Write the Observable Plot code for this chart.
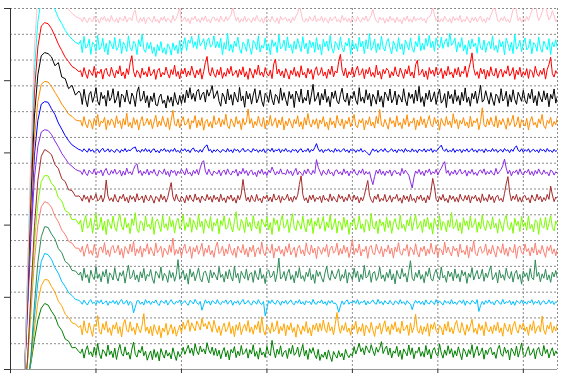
<!DOCTYPE html>
<html>
<head>
<meta charset="utf-8">
<script src="https://cdn.jsdelivr.net/npm/d3@7"></script>
<script src="https://cdn.jsdelivr.net/npm/@observablehq/plot@0.6"></script>
<style>
  html, body { margin: 0; padding: 0; background: #fff; }
  #chart svg { display: block; }
</style>
</head>
<body>
<div id="chart"></div>
<script>
// x sampling: a coarse start segment, then a fine segment
const riseStart = 0.16, riseStep = 0.04, riseCount = 17;
const fineStart = 0.82, fineStep = 0.02;
// Baseline level of each trace (bottom to top)
const offsets = [66, 159, 260, 364, 461, 562, 663, 764, 849, 957, 1054, 1151, 1256, 1357];
const colors = ["green", "orange", "deepskyblue", "seagreen", "salmon", "lawngreen", "brown",
                "blueviolet", "blue", "darkorange", "black", "red", "cyan", "pink"];
const xTicks = [0, 1, 2, 3, 4, 5, 6];
const yTicks = [0, 280, 560, 840, 1120, 1400];
const yGrid = [100, 200, 300, 400, 500, 600, 700, 800, 900, 1000, 1100, 1200, 1300, 1400];
const xGrid = [1, 2, 3, 4, 5, 6, 6.4];

const s0 = [-143,-104,-40,49,126,172,190,184,160,140,104,86,52,44,18,20,3,
-3,14,-22,9,26,-8,3,-17,21,-12,35,-5,-24,11,2,-15,29,-9,6,-20,
17,-27,8,31,-4,-14,22,-10,1,-26,13,40,-7,-18,10,-2,24,-13,5,-30,
-10,6,-28,12,-19,3,-33,15,-6,-22,9,-14,-1,-25,18,-8,-31,4,-16,-5,
20,-7,11,28,-3,17,-12,33,6,-9,25,2,14,-6,38,10,-4,21,-11,16,
-14,9,-24,3,19,-17,7,-29,12,-2,23,-20,5,-13,27,-8,-1,15,-22,11,
-6,30,-15,4,-26,18,-10,2,-19,24,-4,-12,47,8,-21,13,-7,26,-16,1,
8,-23,16,-5,28,-11,-2,21,-18,6,31,-14,9,-27,15,-3,19,-9,-24,12,
-31,-7,-19,2,-26,10,-15,-35,4,-11,-22,7,-17,-3,-29,12,-8,-20,-5,-14,
23,-6,14,36,3,18,-9,26,11,-2,30,7,-12,20,1,16,42,-4,13,25,
-10,17,-21,6,-3,24,-16,9,-27,14,1,-13,29,-8,18,-24,5,-1,21,-15,
4,-18,27,-9,12,-25,8,19,-6,-14,33,-2,-22,10,-11,26,-5,15,-19,7,
-13,22,-4,-28,16,3,-17,11,-7,30,-20,6,24,-12,-1,18,-26,9,-8,14,
19,-10,2,-23,13,28,-6,-15,21,-3,10,-29,17,4,-12,25,-18,7,37,-9,
-16,5,23,-11,-2,15,-25,9,20,-7,-14,27,-4,12,-21,3,18,-13,6,-8];
const s1 = [-264,-211,-124,-2,103,166,190,188,163,141,106,88,56,43,22,17,4,
12,-25,30,-9,-18,22,-4,-31,16,7,50,-12,-22,19,-6,28,-15,3,-27,14,
-2,24,-19,8,-33,17,35,-7,-14,26,-10,4,-24,21,-1,-17,13,58,-11,6,
-20,9,-29,15,-5,-23,11,-36,2,-13,20,-26,-4,16,-21,7,-30,-8,13,-18,
25,-3,18,34,-11,22,6,-9,29,13,-6,40,8,19,-2,27,11,-14,32,5,
-16,10,-27,3,21,-13,-1,26,-20,9,-32,15,-7,24,-24,1,17,-10,31,-15,
6,-22,14,-3,28,-17,45,-8,-26,11,2,-19,23,-12,-4,30,-21,8,-9,19,
-28,13,-6,22,-15,4,-34,16,-1,-23,10,-11,27,-18,3,-29,14,-5,21,-13,
20,-8,33,-2,-16,25,-10,7,-24,18,62,9,-19,12,-7,23,-14,2,-26,15,
-4,28,-20,6,-11,19,-29,13,1,-17,24,-6,-31,10,-2,21,-22,8,30,-12,
9,-24,17,-5,26,-13,3,-20,29,-9,-1,14,-27,22,-16,5,55,-7,-18,11,
-23,7,-12,20,-30,16,-3,24,-8,-19,12,2,-25,18,-10,27,-14,4,-21,13,
31,-6,-17,23,-2,-26,15,-11,9,36,-15,1,-22,19,-7,12,-28,26,-4,-13,
8,-20,14,-9,25,-16,3,-30,21,-1,-12,17,-24,10,28,-5,-18,15,-3,22,
-11,6,-27,16,-8,30,-19,2,11,-14,48,-6,-23,13,-2,25,-17,9,-10,20];
const s2 = [-395,-328,-215,-57,78,159,190,185,167,135,113,81,62,38,27,12,8,
3,-7,9,-2,-10,5,11,-4,1,-8,7,-3,10,-6,0,6,-11,4,-2,8,
-5,7,-9,3,12,-6,-1,9,-11,4,-3,-40,-18,6,8,-7,2,-10,11,-3,
6,-8,4,-2,10,-5,-12,7,3,-4,9,-10,1,11,-3,-7,5,-1,10,-8,
0,7,-4,-11,8,3,-6,12,-1,-8,4,-30,-9,10,-3,6,-10,7,2,-6,
11,-4,-8,5,-1,10,-7,3,9,-11,4,-3,7,-9,1,12,-6,-2,8,-4,
-10,6,3,-7,11,-3,-8,4,-52,-24,7,-4,10,-2,-7,8,3,-11,6,-3,
8,-7,2,10,-4,-9,6,-3,11,-6,3,-10,7,-1,4,-8,12,-4,-7,5,
-2,10,-6,3,-11,7,-3,8,-4,-2,-12,-38,-14,6,-8,4,10,-7,2,-3,
7,-4,11,-8,3,-1,8,-10,5,-6,2,10,-3,-7,12,-4,4,-9,7,-2,
-6,8,-3,-10,6,2,-7,11,-4,3,-9,7,-2,-6,-28,-5,8,-3,6,-7,
4,-10,10,-3,-6,7,1,-8,11,-4,6,-2,-10,8,-3,4,-7,11,-6,2,
-8,3,7,-4,10,-11,6,-2,-7,8,3,-6,11,-35,-12,4,-8,7,-3,10,
-4,2,-10,6,8,-3,-7,12,-6,3,-1,8,-9,4,-11,7,2,-4,10,-6,
3,-7,6,-2,11,-8,4,-3,8,-10,2,7,-6,-3,10,-4,6,-8,3,-2];
const s3 = [-530,-447,-309,-115,52,151,190,187,161,142,105,89,55,45,20,18,2,
14,-19,29,-8,4,-28,21,-3,-15,35,-11,7,-24,16,-5,25,-31,11,1,-17,
31,-7,-21,12,-2,19,-29,8,40,-12,-4,22,-16,3,-25,15,-9,28,-20,5,
-3,24,-13,-30,17,7,-10,34,-19,9,-1,-26,20,-8,12,-22,4,62,-14,2,
21,-16,8,-33,26,-5,15,-20,3,30,-12,-24,11,18,-4,-28,22,-9,13,-1,
-17,33,-7,5,-25,16,-13,24,-3,-21,37,-8,9,-29,17,1,-12,26,-18,7,
12,-26,20,-4,-16,29,-11,4,-31,15,22,-7,-2,18,-24,8,68,-13,-5,16,
-20,9,25,-15,3,-28,17,-8,31,-12,0,-22,13,-4,28,-17,5,-30,21,-3,
15,-9,-25,11,36,-5,-18,20,-1,-13,8,26,-21,4,-10,24,-29,12,1,-16,
29,-7,18,-24,5,-15,40,-9,-3,21,-26,10,16,-19,-5,33,-12,3,-22,13,
-8,25,-17,7,-32,20,-1,-13,28,-4,9,-25,17,58,-10,-20,12,-7,22,-14,
4,-28,16,-3,30,-12,-21,8,24,-5,-16,34,-9,1,-26,18,-4,13,-20,26,
-10,7,-24,21,-1,15,-30,9,-7,31,-17,3,20,-13,-3,25,-22,10,-8,17,
38,-16,-5,12,-28,22,-9,4,-18,29,-1,-12,16,-25,8,21,-14,5,-33,18,
-4,11,-21,28,-8,-16,61,-3,13,-24,7,-10,25,-17,3,-26,14,-5,20,-12];
const s4 = [-559,-428,-233,-38,99,170,190,184,168,133,112,80,63,36,29,10,9,
-6,17,-22,5,26,-12,1,-18,24,-4,-27,10,14,-8,31,-16,3,-23,12,20,
-9,-1,21,-17,8,-29,16,4,-13,25,-5,36,-20,7,-10,18,-25,9,-3,27,
-14,13,-4,-21,30,-8,3,17,-26,10,-1,-16,22,-7,49,-18,5,-12,14,-23,
8,25,-10,-3,16,-30,12,-5,20,-14,4,29,-22,9,-8,21,-17,1,-26,13,
33,-12,-4,18,-21,7,-13,26,-1,-18,10,-27,17,3,-9,24,-16,8,-25,14,
-5,21,-24,4,12,-14,34,-8,-20,16,1,-10,25,-29,9,-3,18,-13,5,-22,
17,-7,27,-17,-1,13,-26,8,20,-12,3,-21,30,-5,-16,22,-9,10,-31,16,
4,-14,12,-4,24,-25,7,18,-10,-1,29,-18,8,-13,21,-7,14,-27,3,44,
-16,9,-8,26,-21,5,-3,17,-30,12,20,-9,-17,25,1,-12,16,-24,7,-4,
22,-13,10,-29,14,-5,31,-10,-18,8,-1,24,-22,13,4,-16,27,-8,-25,12,
-3,18,-20,7,-12,29,-7,-14,21,-26,9,3,-17,33,-9,14,-5,-21,17,-1,
10,-24,25,-8,1,-16,20,-28,13,-4,38,-12,-20,8,16,-10,-3,26,-18,5,
-13,21,-5,-25,17,4,-10,27,-16,9,-22,14,-1,-8,24,-30,12,18,-7,-14,
26,-4,8,-21,13,-9,30,-17,3,-12,20,-5,-26,16,-1,22,-13,7,-20,10];
const s5 = [-675,-524,-299,-73,85,167,190,189,160,145,104,92,54,47,19,21,1,
18,-29,10,35,-14,-4,25,-34,7,43,-20,-8,29,-23,13,-39,21,3,-16,33,
-10,-26,17,39,-7,-21,27,-12,5,-35,23,-3,46,-17,-31,14,8,-25,34,-9,
1,-18,30,-38,12,21,-5,-27,36,-13,4,-22,31,-8,16,-33,9,25,-16,-4,
38,-23,7,-10,27,-30,18,-1,-20,40,-9,13,-34,22,3,-14,31,-26,8,-5,
23,-36,16,-3,34,-18,-12,26,-7,-29,12,50,-16,-22,20,4,-31,29,-8,10,
-25,35,-4,-17,14,-34,22,5,-10,30,-21,8,-39,26,-1,17,-27,12,36,-14,
-7,20,-31,9,42,-12,-23,16,1,-18,33,-9,-29,21,-4,25,-35,13,-5,27,
-17,4,31,-26,10,-13,38,-20,-3,23,-33,14,7,-22,29,-10,18,-38,8,-1,
26,-21,-7,34,-16,3,-30,20,12,-25,44,-8,-18,14,-35,22,-4,10,-27,30,
-12,16,-34,5,23,-9,-20,36,-14,1,-26,18,-5,31,-23,9,39,-17,-3,13,
-31,21,-8,29,-18,7,-37,25,-1,-13,35,-22,12,4,-29,17,-10,47,-16,-7,
20,-25,8,-35,27,-4,14,-21,33,-12,-1,23,-30,10,-17,38,-8,-23,16,3,
-18,30,-13,5,-33,22,-3,-26,17,36,-10,-20,9,-34,25,-5,13,-27,31,-9,
8,-22,34,-16,1,-29,18,12,-38,26,-7,-14,29,-21,4,35,-12,-25,14,-4];
const s6 = [-791,-620,-364,-109,71,164,190,182,170,132,116,77,66,34,31,9,10,
4,-10,14,-3,8,-15,12,-6,1,18,-9,-4,13,-13,6,72,10,-8,3,-12,
16,-5,-14,9,-1,17,-10,5,-17,12,-3,8,-13,19,-6,-1,10,-16,14,-4,
-9,13,-1,-18,8,3,-12,16,-5,10,-14,4,35,62,7,-10,17,-4,-13,9,
1,-17,12,-8,14,-3,-12,18,-6,5,-16,10,-1,-9,16,-5,8,-14,13,-4,
6,-13,17,-8,3,-16,10,-3,14,-10,4,-18,12,-5,18,74,27,-9,5,-14,
13,-4,-12,16,-8,1,-17,9,-1,14,-10,6,-13,18,-5,-3,12,-16,8,-6,
-1,17,-9,5,-14,10,-4,13,55,88,16,-8,3,-17,12,-5,14,-12,4,-3,
9,-16,13,-6,1,-12,18,-9,8,-4,-14,16,-1,10,-13,5,-8,17,-3,-10,
14,-5,8,-17,4,-9,12,42,70,13,-6,-16,10,-3,17,-12,1,-8,16,-13,
-4,12,-14,6,-1,16,-10,3,-18,13,-5,9,-12,17,-8,1,-16,10,-3,14,
-9,4,-17,12,-5,28,78,46,-3,-13,8,-6,16,-10,1,-16,13,-4,9,-12,
5,-14,17,-3,-9,12,-6,14,-17,8,-1,13,-10,4,-16,18,-8,3,-12,16,
-5,9,-16,6,13,-8,1,-13,20,57,85,24,-9,10,-4,16,-12,5,-14,8,
12,-6,3,-17,14,-1,-10,17,-5,9,-13,4,-8,16,-3,48,14,-12,6,-1];
const s7 = [-811,-531,-252,-20,101,157,166,163,147,122,100,74,55,35,24,12,6,
5,-8,12,-3,-12,9,1,-6,14,-10,4,-1,10,-13,6,16,-5,-9,8,-4,
13,-6,-1,9,-14,5,-10,17,-4,3,-9,12,28,34,-3,8,-12,4,-5,13,
-10,6,-3,12,-8,-13,9,1,-5,14,-9,4,-16,10,-1,8,-12,5,-4,13,
3,-10,16,-6,1,-14,8,-4,12,-9,18,39,46,5,-8,13,-3,-12,6,-1,
-5,10,-13,4,9,-8,14,-3,-10,6,-1,12,-14,5,-6,16,-4,8,-12,3,
10,-9,1,-16,8,-4,13,-8,3,-12,9,-1,21,5,-10,4,-6,14,-5,-3,
-8,12,-4,6,-13,3,16,-9,5,-3,-12,10,-5,14,-1,-9,8,-4,50,20,
4,-12,9,-3,-8,13,-5,1,-14,8,10,-6,3,-10,14,-4,6,-13,5,-1,
12,-5,-10,8,-3,14,-9,4,-6,3,-25,-47,-16,9,-4,13,-8,5,-12,6,
-3,10,-14,4,8,-6,1,-12,16,-5,9,-1,-10,-36,-60,-20,6,-4,12,-8,
5,-13,9,-1,14,-8,3,-4,12,-10,6,16,31,42,-3,8,-12,4,-6,10,
-9,3,13,-5,-1,9,-14,6,-4,12,-8,1,-12,5,10,-3,14,-9,4,-6,
8,-4,-10,16,-6,3,12,27,52,17,-5,9,-13,4,-1,10,-8,14,-3,-10,
6,-1,13,-9,4,-12,8,-5,14,-3,-8,10,-4,1,-13,9,5,-10,3,-4];
const s8 = [-901,-589,-278,-18,117,180,190,187,162,140,107,83,58,38,22,13,4,
3,-4,7,-1,-6,8,-3,4,-7,1,5,-8,3,9,-4,-1,7,-6,4,-3,
-7,5,1,-8,4,-3,8,-5,3,-1,7,11,14,-4,1,-7,5,-3,8,-4,
4,-8,3,7,-6,1,-9,5,-1,8,-4,3,-7,4,-3,9,-5,1,-8,5,
-1,7,-4,3,-8,5,10,-3,1,-7,4,-6,8,17,22,-1,4,-8,3,-4,
5,-3,-7,4,1,-6,8,-4,3,-8,7,-1,4,-7,1,9,-4,-1,5,-3,
-6,8,-1,4,-7,3,-4,7,-8,1,5,-3,9,-6,3,-1,7,-8,4,-3,
8,-4,1,-7,5,-1,4,-8,3,7,-6,1,-3,8,-7,4,-1,12,27,7,
-4,5,-8,3,-1,7,-4,1,-7,8,-3,4,-6,1,8,-4,3,-8,5,-1,
4,-7,3,-3,8,-6,1,-4,-11,-18,-5,7,-3,4,-7,1,5,-4,8,-3,
-6,1,7,-4,3,-8,5,-1,4,-7,8,-3,1,-6,7,-4,3,-8,5,1,
-3,7,-6,4,-1,8,-7,3,-4,5,13,21,4,-3,7,-6,1,-4,8,-7,
3,-1,5,-8,4,-3,7,-6,1,8,-4,3,-7,5,-1,4,-8,7,-3,1,
-4,8,-3,5,-7,1,4,-6,8,-1,3,-8,5,-3,12,18,1,-4,7,-6,
4,-3,7,-7,1,5,-4,3,-8,7,-1,4,-6,8,-3,1,-7,5,-4,3];
const s9 = [-1013,-678,-343,-63,82,149,160,158,141,118,97,72,54,33,25,11,7,
9,-13,24,-5,-20,12,3,-25,17,-8,32,-16,7,-1,21,-27,11,-10,15,4,
-19,27,-4,8,-24,16,-9,37,-15,1,-21,20,-7,12,-28,5,24,-12,-3,17,
-8,13,-23,4,29,-17,7,-11,25,-1,-16,19,-27,9,48,-5,-13,15,-20,3,
23,-9,-4,16,-25,8,-1,28,-19,11,-12,20,-29,5,13,-15,4,-21,27,-7,
-3,19,-16,12,-8,33,-12,-23,15,1,-17,24,-5,8,-27,17,-9,3,53,-4,
16,-20,5,-11,25,-3,-15,21,-24,9,-7,29,-13,1,19,-19,11,-8,23,-28,
7,-12,17,-1,-21,13,-5,27,-16,4,-25,20,-9,36,-3,-17,12,-7,16,-23,
11,-4,24,-15,3,-27,19,-8,7,-20,28,-1,-12,15,-24,8,-5,21,-16,4,
32,-11,-19,12,-1,17,-28,9,-7,23,-13,3,-21,25,-4,51,-9,-16,13,-5,
-25,20,-3,8,-17,27,-11,1,-23,16,-8,31,-15,5,-1,19,-27,11,-12,24,
-7,15,-20,4,28,-9,-16,21,-4,12,-29,17,-1,-13,24,-8,7,-19,35,-3,
13,-24,9,-5,20,-12,3,-21,25,-15,8,-1,17,-27,5,58,-7,-17,15,-9,
21,-4,-15,27,-20,11,-8,16,-3,-25,19,-11,4,29,-16,-5,23,-21,12,-1,
-13,17,-28,7,24,-9,1,-19,15,-4,32,-12,-23,9,-3,21,-16,5,-8,25];
const s10 = [-1115,-747,-378,-71,89,163,175,171,158,124,136,80,74,35,48,10,26,
16,-26,33,-8,-35,12,24,-18,4,39,-14,-29,21,-4,9,-33,28,-12,1,35,
-21,-5,25,-37,14,7,-17,30,-10,-25,18,3,-34,22,42,-13,-7,26,-20,8,
-38,6,-15,19,-28,-31,2,14,-22,-9,-40,8,-18,3,-33,20,-13,-27,9,-23,
13,-19,30,-1,39,-6,17,-14,25,33,-8,12,22,-17,31,6,24,47,-3,11,
27,-14,-33,18,3,-24,34,-9,12,-29,22,-1,-17,40,-12,7,-37,25,-5,16,
-25,10,35,-20,-3,29,-13,-34,17,8,-18,31,-7,-28,13,4,-22,38,-10,20,
-8,-31,24,-4,14,-38,26,9,-16,34,-21,1,-12,30,-26,10,52,-14,-1,21,
-29,16,-9,33,-18,5,-35,22,-3,27,-13,-24,12,37,-7,-17,18,-30,8,-4,
25,-10,-26,39,-14,3,-21,31,-8,17,-33,13,-1,-25,29,-16,7,-37,22,9,
-12,34,-20,-5,26,-28,12,1,-17,35,-9,-31,20,-3,14,-22,30,-13,44,-18,
4,-34,18,-7,29,-16,-1,23,-26,10,33,-21,-10,16,-38,25,-4,13,-23,31,
-14,8,-29,21,-12,38,-18,3,-33,17,-5,26,-22,9,48,-17,-8,27,-1,-25,
20,-9,-30,14,5,-21,35,-13,-3,25,-34,12,-17,31,-7,-26,21,4,-14,29,
-10,-23,17,-4,33,-20,8,-31,24,-1,-16,27,-9,18,-35,13,-5,34,-21,7];
const s11 = [-1218,-815,-411,-75,100,181,194,190,171,142,111,86,60,43,24,16,4,
8,-16,20,-4,-22,12,1,-11,25,-18,5,-3,14,-25,9,17,-8,-14,21,-1,
-20,10,-5,27,-13,3,-23,16,-7,39,66,5,-17,9,-1,-21,18,-9,4,-16,
23,-12,-3,13,-26,8,17,-17,1,-9,22,-4,-21,12,-7,29,-14,5,-24,14,
-5,18,-16,7,-10,26,-1,-20,10,-8,16,-25,4,40,63,3,-13,20,-4,-18,
12,-9,21,-22,1,-14,17,-5,25,-12,-3,9,-18,13,-8,23,-16,4,-26,18,
-1,-21,13,-7,30,-10,3,-17,20,-4,-13,10,-23,34,52,-5,14,-12,7,-20,
16,-3,-25,9,-8,21,-14,5,-18,27,-9,1,-21,17,-5,12,-26,8,23,-10,
-4,20,-13,3,-22,14,-7,26,-16,7,-1,43,71,10,-12,18,-20,4,-8,22,
-17,8,25,-10,-3,16,-23,12,-5,21,-14,1,-18,29,-9,5,-25,13,-4,17,
9,-20,4,-12,23,-8,-16,18,-1,-22,13,-5,27,-13,3,-21,31,48,-10,-3,
14,-17,7,-26,20,-4,10,-14,22,-9,-1,17,-23,8,-12,25,-7,3,-20,16,
-8,21,-16,5,-3,26,-18,12,39,77,16,-10,4,-22,18,-5,13,-25,9,-14,
23,-7,-12,17,-21,3,14,-17,8,-4,27,-13,-1,20,-26,10,-8,21,-16,4,
-10,16,-22,12,5,-18,25,-3,-14,9,-7,18,-25,13,32,60,-4,-17,8,-5];
const s12 = [-1329,-893,-458,-96,93,180,194,189,164,140,108,85,59,41,25,13,6,
20,-27,36,-10,-3,25,-34,13,5,-22,40,-16,-5,29,-25,9,-36,21,4,-13,
32,-18,-7,26,-31,14,1,-23,38,-9,-20,17,8,-35,23,-4,44,-14,-26,12,
-12,13,-30,-5,-42,4,-20,16,-28,-8,-34,7,-4,-37,11,-18,2,-31,20,-25,
5,31,-19,22,9,36,-7,15,-12,40,-1,11,27,-15,18,30,-6,3,38,-9,
16,-8,29,-36,12,-14,49,-21,5,-26,18,-4,33,-12,-30,14,3,-22,26,-7,
-34,20,9,-16,38,-25,1,-10,30,-18,7,-35,23,-3,13,-27,42,-13,-5,22,
-20,34,-9,4,-30,17,-14,27,-1,-23,35,-12,10,-32,21,-7,14,-26,31,-16,
5,-36,25,-4,18,-21,39,-10,-29,16,3,-17,34,-8,-25,12,-1,29,-34,20,
-13,8,-22,33,-5,17,-31,23,-12,47,-18,-3,26,-27,9,-16,36,-7,-21,13,
27,-9,-32,18,-1,-23,31,-14,7,-36,22,4,-17,30,-10,-26,16,-4,39,-20,
10,-16,28,-2,40,-8,17,-22,30,5,-9,33,-11,14,27,-6,48,1,12,30,
-25,14,-7,31,-21,3,-34,20,-13,26,-4,10,-30,34,-9,-17,22,-26,7,16,
-12,38,-18,1,-27,23,-5,16,-36,29,8,-20,13,-31,45,-14,-3,21,-23,9,
30,-17,-8,25,-32,12,4,-22,34,-10,-26,18,1,-16,27,-35,14,-5,23,-13];
const s13 = [-1435,-967,-499,-109,94,187,203,194,168,139,107,82,58,39,24,13,5,
4,-8,10,-3,-12,7,1,-9,13,-5,3,-14,8,-1,12,-7,4,-10,16,-4,
-8,5,-13,9,0,-5,14,-10,3,8,-4,26,36,-3,-12,7,-7,10,-16,4,
9,-4,-10,13,-7,1,-14,8,-3,12,-9,5,-1,-12,16,-5,4,24,46,-8,
-3,10,-9,4,-16,8,-1,13,-7,3,-12,9,-4,14,-8,1,-13,7,10,-5,
5,-10,14,-3,-8,12,-4,7,18,48,21,-5,9,-13,3,-7,13,-9,4,-1,
-12,8,-5,16,-1,-9,5,-14,10,-4,1,-8,13,-3,-10,7,-16,12,-1,4,
8,-7,3,-13,9,-4,14,24,59,26,-3,-10,5,-8,12,-1,-5,16,-9,3,
-4,13,-10,7,-1,-14,9,-5,4,12,-8,1,-12,16,-3,7,-9,5,-13,10,
1,-8,12,-4,-10,8,-3,14,-7,4,16,39,10,-5,-12,9,-1,7,-14,5,
-9,13,-3,5,-12,10,-7,1,-16,8,-4,14,-8,3,-10,12,-5,4,-1,9,
-5,3,-13,7,10,21,48,18,-4,8,-10,3,-7,13,-1,-9,5,-14,12,-3,
7,-4,16,-10,1,-7,12,-3,-13,8,-5,10,-9,4,14,-8,3,-12,9,-1,
17,33,64,27,-3,-9,7,-4,12,-8,1,-13,10,40,72,30,-5,8,-10,4,
-7,12,-3,16,34,52,66,24,-4,9,29,50,69,21,-1,10,35,14,-8,3];

const series = [s0, s1, s2, s3, s4, s5, s6, s7, s8, s9, s10, s11, s12, s13];

const xAt = k => k < riseCount ? riseStart + k * riseStep : fineStart + (k - riseCount) * fineStep;
const rows = series.flatMap((vals, i) =>
  vals.map((v, k) => ({x: xAt(k), y: offsets[i] + v, s: i, c: colors[i]})));

const gridStyle = {stroke: "#8a8a8a", strokeWidth: 1, strokeDasharray: "2,2"};

const chart = Plot.plot({
  width: 567,
  height: 380,
  marginLeft: 10,
  marginRight: 10,
  marginTop: 8,
  marginBottom: 11,
  x: {domain: [0, 6.4], axis: null, label: null},
  y: {domain: [0, 1400], axis: null, label: null},
  color: {type: "identity"},
  marks: [
    Plot.ruleY(yGrid, gridStyle),
    Plot.ruleX(xGrid, gridStyle),
    Plot.line(rows, {x: "x", y: "y", z: "s", stroke: "c", strokeWidth: 1, clip: true}),
    Plot.ruleY([0], {stroke: "#9a9a9a", strokeWidth: 1}),
    Plot.ruleX([0], {stroke: "#333", strokeWidth: 1, y1: -16, y2: 1400}),
    Plot.axisY({ticks: yTicks, tickSize: 6, tickFormat: () => "", label: null, stroke: "#333"}),
    Plot.axisX({ticks: xTicks, tickSize: 4, tickFormat: () => "", label: null, stroke: "#333"})
  ]
});

document.getElementById("chart").appendChild(chart);
</script>
</body>
</html>
